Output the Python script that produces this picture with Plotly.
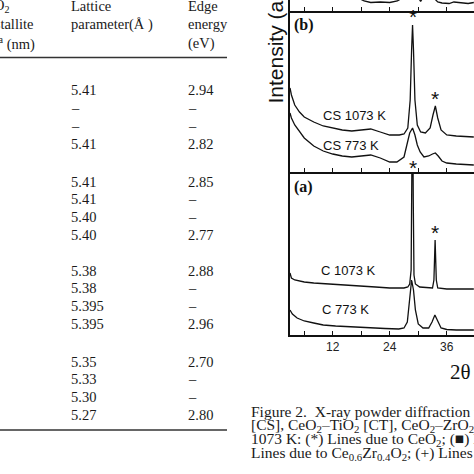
import plotly.graph_objects as go

# ---------------- data ----------------
# Table (right part of a cropped table)
lattice_values = ["5.41", "–", "–", "5.41",
                  "5.41", "5.41", "5.40", "5.40",
                  "5.38", "5.38", "5.395", "5.395",
                  "5.35", "5.33", "5.30", "5.27"]
edge_values = ["2.94", "–", "–", "2.82",
               "2.85", "–", "–", "2.77",
               "2.88", "–", "–", "2.96",
               "2.70", "–", "–", "2.80"]

# XRD patterns (2θ, intensity in arbitrary units)
c773_x = [3.0, 3.5, 4.5, 6, 8, 10, 12.6, 16, 19.6, 23, 25.9, 27, 27.7, 28.2, 28.6, 29.0, 29.4, 30.0,
          31, 32.2, 32.9, 33.5, 34.1, 34.8, 36, 38, 41.7]
c773_y = [25, 21, 17, 14, 12, 10, 9, 8, 7, 6.5, 6, 7, 13, 35, 55, 45, 25, 11,
          7, 7, 13, 20, 14, 7, 5.5, 5, 5]

c1073_x = [3.0, 3.3, 4, 6, 8, 12, 17, 21, 24, 27, 27.8, 28.2, 28.5, 28.65, 28.8, 28.95, 29.1, 29.4,
           29.8, 30.3, 33.0, 33.3, 33.55, 33.8, 34.1, 36, 41.7]
c1073_y = [62, 57, 55, 53, 52, 51, 49, 48, 47, 47, 48, 51, 65, 135, 260, 135, 60, 51,
           50, 48, 47, 55, 95, 55, 47, 46, 46]

cs1073_x = [3.0, 3.3, 4, 5, 6, 8, 10, 12, 14, 16, 18, 20, 22, 24, 26, 27, 27.8, 28.3, 28.6, 28.8,
            29.0, 29.3, 29.8, 30.5, 31.5, 32.5, 33.1, 33.6, 34.1, 34.8, 36, 38, 41.7]
cs1073_y = [84, 77, 67, 60, 55, 50, 46, 44, 42, 41, 42, 43, 40, 37, 37, 38, 44, 72, 122, 147,
            122, 72, 47, 40, 39, 44, 57, 66, 54, 42, 37, 36, 35]

cs773_x = [3.0, 3.3, 4, 5, 6, 8, 10, 12, 14, 16, 18, 20, 22, 24, 25.5, 27.0, 27.6, 28.2, 28.8,
           29.3, 29.8, 30.4, 31.2, 32.2, 33.0, 33.6, 34.2, 35.0, 36, 38, 41.7]
cs773_y = [59, 54, 47, 40, 34, 26, 21, 18, 16, 15, 16, 17, 14, 10, 10, 15, 27, 39, 44,
           37, 27, 20, 15, 16, 18, 19, 16, 11, 9, 8, 7]

top_x = [3.0, 17, 18.6, 20, 22, 24, 25.6, 27, 29, 30.2, 30.5, 30.8, 32, 33.5, 34.1, 35, 36.5,
         37.5, 39, 40.5, 41.7]
top_y = [30, 14, 10, 8.5, 9, 8.5, 10, 15, 20, 12, 9.5, 12, 15, 12, 9, 8, 7.5, 9, 8, 7.5, 8.5]

tick_vals = [6, 12, 18, 24, 30, 36, 42]
tick_text = ["", "12", "", "24", "", "36", ""]

# ---------------- layout helpers ----------------
W, H = 474, 474
L, B = 290, 139
PW, PH = W - L, H - B


def px(x):
    return (x - L) / PW


def py(y):
    return (H - B - y) / PH


BLACK = "#111111"
fig = go.Figure()

line = dict(color=BLACK, width=1.3)
fig.add_trace(go.Scatter(x=c773_x, y=c773_y, mode="lines", line=line, xaxis="x", yaxis="y", showlegend=False))
fig.add_trace(go.Scatter(x=c1073_x, y=c1073_y, mode="lines", line=line, xaxis="x", yaxis="y", showlegend=False))
fig.add_trace(go.Scatter(x=cs773_x, y=cs773_y, mode="lines", line=line, xaxis="x2", yaxis="y2", showlegend=False))
fig.add_trace(go.Scatter(x=cs1073_x, y=cs1073_y, mode="lines", line=line, xaxis="x2", yaxis="y2", showlegend=False))
fig.add_trace(go.Scatter(x=top_x, y=top_y, mode="lines", line=line, xaxis="x3", yaxis="y3", showlegend=False))

xr = [3, 3 + PW / 4.75]
ax_common = dict(showline=True, linecolor=BLACK, linewidth=1.8, showgrid=False, zeroline=False,
                 range=xr, ticks="inside", ticklen=4, tickcolor=BLACK, tickwidth=1,
                 tickvals=tick_vals)
y_common = dict(showline=True, linecolor=BLACK, linewidth=1.8, showgrid=False, zeroline=False,
                showticklabels=False, ticks="")

da = 163 / PH
db = 324 / PH
fig.update_layout(
    width=W, height=H,
    margin=dict(l=L, r=0, t=0, b=B),
    paper_bgcolor="white", plot_bgcolor="white",
    xaxis=dict(**ax_common, anchor="y", domain=[0, 1], ticktext=tick_text,
               tickfont=dict(family="Liberation Sans", size=12, color="#222")),
    xaxis2=dict(**ax_common, anchor="y2", domain=[0, 1], matches="x", showticklabels=False),
    xaxis3=dict(**ax_common, anchor="y3", domain=[0, 1], matches="x", showticklabels=False),
    yaxis=dict(**y_common, domain=[0, da], range=[0, 163]),
    yaxis2=dict(**y_common, domain=[da, db], range=[0, 161]),
    yaxis3=dict(**y_common, domain=[db, 1], range=[0, 11]),
)

ann = []
serif = "Liberation Serif"
sans = "Liberation Sans"
TXT = "#1a1a1a"

# table header
hdr = [("CeO<sub>2</sub>", 12, 6, "right"), ("Crystallite", 35, 24, "right"),
       ("size<sup>a</sup> (nm)", 37, 43, "right"),
       ("Lattice", 68.5, 6, "left"), ("parameter(Å )", 68.5, 25, "left"),
       ("Edge", 186, 6, "left"), ("energy", 186, 24, "left"), ("(eV)", 186, 43, "left")]
for t, x, y, a in hdr:
    ann.append(dict(text=t, x=px(x), y=py(y), xref="paper", yref="paper", xanchor=a, yanchor="middle",
                    showarrow=False, font=dict(family=serif, size=14.5, color=TXT)))

group_start = [90, 181.5, 270.5, 361.5]
for i, (lv, ev) in enumerate(zip(lattice_values, edge_values)):
    yy = group_start[i // 4] + (i % 4) * 17.9
    ann.append(dict(text=lv, x=px(68.5), y=py(yy), xref="paper", yref="paper", xanchor="left",
                    yanchor="middle", showarrow=False, font=dict(family=serif, size=14.5, color=TXT)))
    ann.append(dict(text=ev, x=px(186), y=py(yy), xref="paper", yref="paper", xanchor="left",
                    yanchor="middle", showarrow=False, font=dict(family=serif, size=14.5, color=TXT)))

shapes = []
for yy in (57.5, 430):
    shapes.append(dict(type="line", xref="paper", yref="paper", x0=px(0), x1=px(227), y0=py(yy), y1=py(yy),
                       line=dict(color="#333", width=1.5)))

# panel labels
for t, x, y in [("(b)", 292, 25), ("(a)", 292, 187)]:
    ann.append(dict(text="<b>" + t + "</b>", x=px(x), y=py(y), xref="paper", yref="paper", xanchor="left",
                    yanchor="middle", showarrow=False, font=dict(family=serif, size=16, color=BLACK)))
for t, x, y in [("CS 1073 K", 321, 115), ("CS 773 K", 321, 145), ("C 1073 K", 319, 270), ("C 773 K", 320, 309)]:
    ann.append(dict(text=t, x=px(x), y=py(y), xref="paper", yref="paper", xanchor="left",
                    yanchor="middle", showarrow=False, font=dict(family=sans, size=13, color=BLACK)))

# stars
for x, y in [(28.8, 15), (33.6, 97), (28.8, 166), (33.6, 231)]:
    ann.append(dict(text="*", x=x, y=py(y + 1), xref="x", yref="paper", xanchor="center", yanchor="middle",
                    showarrow=False, font=dict(family=sans, size=21, color=BLACK)))

# axis titles
ann.append(dict(text="Intensity (a.u.)", x=px(275), y=py(106), xref="paper", yref="paper",
                xanchor="center", yanchor="bottom", textangle=-90, showarrow=False,
                font=dict(family=sans, size=21, color=BLACK)))
ann.append(dict(text="2θ", x=px(460), y=py(372), xref="paper", yref="paper", xanchor="center",
                yanchor="middle", showarrow=False, font=dict(family=serif, size=21, color=BLACK)))

# caption
cap = ["Figure 2.&nbsp; X-ray powder diffraction patterns of",
       "[CS], CeO<sub>2</sub>–TiO<sub>2</sub> [CT], CeO<sub>2</sub>–ZrO<sub>2</sub> [CZ]",
       "1073 K: (*) Lines due to CeO<sub>2</sub>; (■) Lines due",
       "Lines due to Ce<sub>0.6</sub>Zr<sub>0.4</sub>O<sub>2</sub>; (+) Lines due to"]
for i, t in enumerate(cap):
    ann.append(dict(text=t, x=px(249), y=py(400.5 + i * 13.7), xref="paper", yref="paper", xanchor="left",
                    yanchor="top", showarrow=False, font=dict(family=serif, size=15.5, color=TXT)))

fig.update_layout(annotations=ann, shapes=shapes)
fig.write_html("out.html")
